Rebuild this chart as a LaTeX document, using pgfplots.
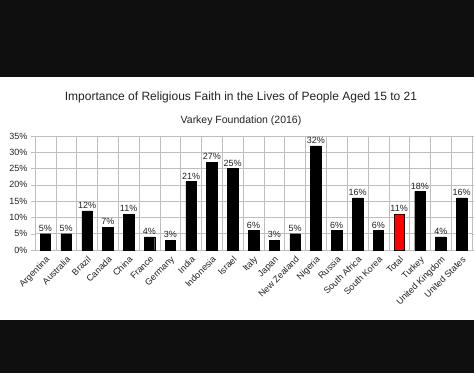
\documentclass[border=0pt]{standalone}
\usepackage{pgfplots}
\pgfplotsset{compat=1.18}
\usepackage{fontspec}
\setmainfont{Liberation Sans}
\definecolor{gridgray}{RGB}{190,190,190}
\definecolor{txt}{RGB}{35,35,35}
\definecolor{band}{RGB}{15,15,15}
\begin{document}
\begin{tikzpicture}[x=1pt,y=1pt]
\useasboundingbox (0,0) rectangle (474,373);
\fill[white] (0,0) rectangle (474,373);
\fill[band] (0,296) rectangle (474,373);
\fill[band] (0,0) rectangle (474,53);
\node[font=\fontsize{12}{14}\selectfont, text=txt] at (241,276) {Importance of Religious Faith in the Lives of People Aged 15 to 21};
\node[font=\fontsize{10.5}{12}\selectfont, text=txt] at (241,252) {Varkey Foundation (2016)};
\begin{axis}[
  at={(35pt,123pt)}, anchor=south west,
  scale only axis, width=437pt, height=114pt,
  xmin=-0.5, xmax=20.5, ymin=0, ymax=35,
  ytick={0,5,...,35},
  yticklabel={\pgfmathprintnumber{\tick}\%},
  yticklabel style={font=\fontsize{9}{10}\selectfont, text=txt},
  /pgf/number format/assume math mode=true,
  xtick={0,...,20},
  xticklabels={Argentina,Australia,Brazil,Canada,China,France,Germany,India,Indonesia,Israel,Italy,Japan,New Zealand,Nigeria,Russia,South Africa,South Korea,Total,Turkey,United Kingdom,United States},
  xticklabel style={rotate=45, anchor=north east, font=\fontsize{9}{10}\selectfont, text=txt, inner sep=1pt},
  xtick style={draw=none},
  minor xtick={-0.5,0.5,...,20.5},
  xminorgrids=true, ymajorgrids=true,
  grid style={gridgray, line width=0.5pt},
  minor grid style={gridgray, line width=0.5pt},
  axis line style={gridgray},
  ytick style={gridgray},
  tick align=outside, major tick length=4pt,
  ybar, bar width=10.5pt, bar shift=0pt,
  nodes near coords={\pgfmathprintnumber{\pgfplotspointmeta}\%},
  every node near coord/.append style={font=\fontsize{9}{10}\selectfont, text=txt, inner sep=2pt},
]
\addplot[fill=black, draw=black] coordinates {
(0,5) (1,5) (2,12) (3,7) (4,11) (5,4) (6,3) (7,21) (8,27) (9,25)
(10,6) (11,3) (12,5) (13,32) (14,6) (15,16) (16,6) (18,18) (19,4) (20,16)};
\addplot[fill=red, draw=black] coordinates {(17,11)};
\end{axis}
\end{tikzpicture}
\end{document}
